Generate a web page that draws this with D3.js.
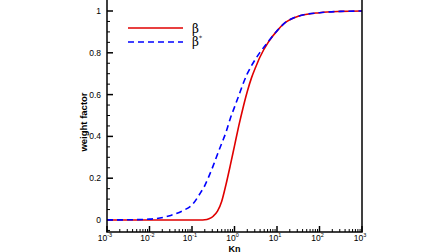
<!DOCTYPE html>
<html>
<head>
<meta charset="utf-8">
<script src="https://cdn.jsdelivr.net/npm/d3@7"></script>
<style>
  body { margin: 0; background: #fff; }
  svg { display: block; font-family: "Liberation Sans", Arial, sans-serif; }
  .tick-label { font-size: 8.5px; fill: #000; }
  .label { font-size: 9.5px; font-weight: bold; fill: #000; }
</style>
</head>
<body>
<svg id="chart" width="448" height="252"></svg>
<script>
// Knudsen numbers
let kn = [0.001, 0.00316, 0.01, 0.0316, 0.063, 0.1, 0.158, 0.2, 0.251, 0.316, 0.398, 0.501, 0.631, 0.794,
          1, 1.26, 1.58, 2, 2.51, 3.16, 3.98, 6.31, 10, 15.8, 31.6, 100, 316, 1000]
// beta (red solid)
let beta = [0, 0, 0, 0, 0, 0, 0, 0.001, 0.006, 0.018, 0.042, 0.09, 0.17, 0.26,
            0.355, 0.45, 0.535, 0.615, 0.68, 0.732, 0.78, 0.852, 0.905, 0.945, 0.975, 0.992, 0.998, 1]
// beta* (blue dashed)
let betaStar = [0.0004, 0.001, 0.004, 0.022, 0.046, 0.072, 0.13, 0.165, 0.21, 0.26, 0.315, 0.367, 0.42, 0.485,
                0.54, 0.595, 0.65, 0.70, 0.738, 0.772, 0.802, 0.855, 0.905, 0.945, 0.975, 0.992, 0.998, 1]
let xTickExp = [-3, -2, -1, 0, 1, 2, 3]
let yTicks = [0, 0.2, 0.4, 0.6, 0.8, 1]

let plotLeft = 107, plotRight = 362, plotTop = -1, plotBottom = 232

let xScale = d3.scaleLog().domain([1e-3, 1e3]).range([plotLeft, plotRight])
let yScale = d3.scaleLinear().domain([0, 1]).range([220, 11])

let svg = d3.select("#chart")

// minor ticks
let xMinor = []
for (let e = -3; e < 3; e++) for (let m = 2; m <= 9; m++) xMinor.push(m * Math.pow(10, e))
svg.append("g").selectAll("line").data(xMinor).enter().append("line")
    .attr("x1", d => xScale(d)).attr("x2", d => xScale(d))
    .attr("y1", plotBottom).attr("y2", plotBottom - 3)
    .attr("stroke", "#000").attr("stroke-width", 1)
let yMinor = d3.range(-0.05, 1.05, 0.05).filter(v => Math.abs(Math.round(v * 5) - v * 5) > 0.01)
svg.append("g").selectAll("line").data(yMinor).enter().append("line")
    .attr("x1", plotLeft).attr("x2", plotLeft + 3)
    .attr("y1", d => yScale(d)).attr("y2", d => yScale(d))
    .attr("stroke", "#000").attr("stroke-width", 1)

// major ticks
svg.append("g").selectAll("line").data(xTickExp).enter().append("line")
    .attr("x1", d => xScale(Math.pow(10, d))).attr("x2", d => xScale(Math.pow(10, d)))
    .attr("y1", plotBottom).attr("y2", plotBottom - 6)
    .attr("stroke", "#000").attr("stroke-width", 1.5)
svg.append("g").selectAll("line").data(yTicks).enter().append("line")
    .attr("x1", plotLeft).attr("x2", plotLeft + 6)
    .attr("y1", d => yScale(d)).attr("y2", d => yScale(d))
    .attr("stroke", "#000").attr("stroke-width", 1.5)

// curves
let line = (ys) => d3.line()
    .x((d, i) => xScale(kn[i]))
    .y((d, i) => yScale(ys[i]))
    .curve(d3.curveMonotoneX)(ys)

svg.append("path").attr("d", line(beta))
    .attr("fill", "none").attr("stroke", "#e00000").attr("stroke-width", 1.6)
svg.append("path").attr("d", line(betaStar))
    .attr("fill", "none").attr("stroke", "#0000ff").attr("stroke-width", 1.6)
    .attr("stroke-dasharray", "6,4")

// frame
svg.append("rect").attr("x", plotLeft).attr("y", plotTop)
    .attr("width", plotRight - plotLeft).attr("height", plotBottom - plotTop)
    .attr("fill", "none").attr("stroke", "#000").attr("stroke-width", 1.5)

// tick labels
svg.append("g").selectAll("text").data(yTicks).enter().append("text")
    .attr("class", "tick-label")
    .attr("x", plotLeft - 6).attr("y", d => yScale(d) + 3)
    .attr("text-anchor", "end")
    .text(d => d)

let xl = svg.append("g").selectAll("text").data(xTickExp).enter().append("text")
    .attr("class", "tick-label")
    .attr("x", d => xScale(Math.pow(10, d)) - 2).attr("y", 240.5)
    .attr("text-anchor", "middle")
xl.append("tspan").text("10")
xl.append("tspan").attr("dy", -4).style("font-size", "5.5px").text(d => d)

// axis labels
svg.append("text").attr("class", "label")
    .attr("x", (plotLeft + plotRight) / 2).attr("y", 251.5)
    .attr("text-anchor", "middle").style("font-size", "9px").text("Kn")
svg.append("g")
    .attr("transform", `translate(${87},${122}) rotate(270)`)
    .append("text").attr("class", "label")
    .attr("text-anchor", "middle").text("weight factor")

// legend
let legend = svg.append("g")
legend.append("line").attr("x1", 128).attr("x2", 183).attr("y1", 28).attr("y2", 28)
    .attr("stroke", "#e00000").attr("stroke-width", 1.6)
legend.append("line").attr("x1", 128).attr("x2", 183).attr("y1", 42).attr("y2", 42)
    .attr("stroke", "#0000ff").attr("stroke-width", 1.6).attr("stroke-dasharray", "6,4")
legend.append("text").attr("x", 192).attr("y", 33)
    .style("font-family", "'DejaVu Serif', serif").style("font-size", "12px").text("β")
let ls = legend.append("text").attr("x", 192).attr("y", 46)
    .style("font-family", "'DejaVu Serif', serif").style("font-size", "12px")
ls.append("tspan").text("β")
ls.append("tspan").attr("dy", -6).style("font-size", "6px").text("*")
</script>
</body>
</html>
